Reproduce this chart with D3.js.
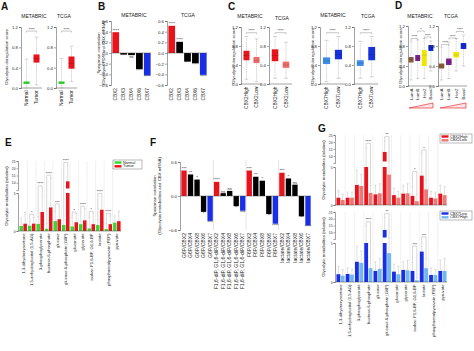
<!DOCTYPE html>
<html><head><meta charset="utf-8">
<script src="https://cdn.jsdelivr.net/npm/d3@7"></script>
<style>body{margin:0;background:#fff} svg{display:block} svg text{font-family:"Liberation Sans",Arial,Helvetica,sans-serif}</style>
</head><body><script>
// ---------------- DATA ----------------
// box stats: [min, q1, median, q3, max]
const catsA = ["Normal","Tumor"];
const boxA_METABRIC = [[0.0,0.08,0.10,0.13,0.57],[0.06,0.50,0.58,0.66,1.00]];
const boxA_TCGA = [[0.0,0.08,0.10,0.13,0.58],[0.13,0.38,0.48,0.62,0.82]];
const colorsA = ["#35d835","#e8141c"];

const catsB = ["CBX2","CBX3","CBX4","CBX6","CBX7"];
const corrB_METABRIC = [0.39,-0.03,-0.04,-0.30,-0.42];
const corrB_TCGA = [0.51,0.21,-0.16,-0.19,-0.41];
const sigB_METABRIC = ["****","*","ns","****","****"];
const sigB_TCGA = ["****","****","****","****","****"];
const colorsB = ["#e8141c","#000000","#000000","#000000","#1a2ee6"];

const catsC2 = ["CBX2High","CBX2Low"];
const catsC7 = ["CBX7High","CBX7Low"];
const boxC_METABRIC_CBX2 = [[0.10,0.50,0.60,0.70,1.00],[0.05,0.44,0.50,0.57,0.95]];
const boxC_TCGA_CBX2 = [[0.12,0.48,0.60,0.73,1.00],[0.12,0.34,0.40,0.47,0.88]];
const boxC_METABRIC_CBX7 = [[0.05,0.42,0.49,0.56,0.92],[0.12,0.52,0.62,0.72,1.00]];
const boxC_TCGA_CBX7 = [[0.12,0.38,0.44,0.50,0.90],[0.15,0.50,0.62,0.78,1.00]];
const colorsC2 = ["#e8141c","#ee6a6a"];
const colorsC7 = ["#3a8ee8","#1533d9"];

const catsD = ["LumA","LumB","Her2","Basal"];
const boxD_METABRIC = [[0.12,0.47,0.53,0.58,0.90],[0.15,0.50,0.56,0.62,0.92],[0.15,0.40,0.62,0.72,0.95],[0.30,0.70,0.76,0.82,0.90]];
const boxD_TCGA = [[0.12,0.35,0.40,0.45,0.78],[0.15,0.42,0.48,0.55,0.88],[0.30,0.57,0.62,0.68,0.95],[0.40,0.74,0.80,0.86,1.02]];
const colorsD = ["#8a5a3a","#7a1f8c","#f2e600","#1028d8"];

const metabolites = ["1,3-dihydroxyacetone","1,5-anhydroglucitol (1,5-AG)","3-phosphoglycerate","fructose-6-phosphate","glucose","glucose-6-phosphate (G6P)","gluconate","glycerate","isobar: F1,6-BP, G1,6-BP","lactate","phosphoenolpyruvate (PEP)","pyruvate"];
const E_normal = [0.66,0.70,0.93,0.30,1.30,0.80,0.60,0.90,0.35,0.80,0.25,1.10];
const E_tumor  = [0.96,0.97,2.50,3.10,1.55,11.0,1.15,1.40,0.90,2.80,0.90,1.30];
const E_normalErr = [1.7,1.3,1.9,1.0,2.6,2.0,1.8,2.4,1.8,1.5,1.0,2.0];
const E_tumorErr  = [2.5,1.8,4.5,13.0,3.2,22.0,2.3,3.0,2.4,4.6,2.0,2.6];
const E_sig = [null,"*","****","****","***","****","*","****","*","****","****",null];
const E_sigLevel = [0,2.2,7.9,15.2,3.55,24,2.5,3.25,2.6,4.95,2.3,0];

const catsF = ["G6P/CBX2","G6P/CBX4","G6P/CBX8","G6P/CBX6","G6P/CBX7",
  "F1,6-diP, G1,6-diP/CBX2","F1,6-diP, G1,6-diP/CBX4","F1,6-diP, G1,6-diP/CBX8","F1,6-diP, G1,6-diP/CBX6","F1,6-diP, G1,6-diP/CBX7",
  "F6P/CBX2","F6P/CBX4","F6P/CBX8","F6P/CBX6","F6P/CBX7",
  "lactate/CBX2","lactate/CBX4","lactate/CBX8","lactate/CBX6","lactate/CBX7"];
const corrF = [0.45,0.38,0.29,-0.28,-0.44, 0.25,0.05,0.09,-0.18,-0.26, 0.45,0.34,0.27,-0.32,-0.49, 0.41,0.31,0.20,-0.36,-0.52];
const sigF = ["***","**","*","*","***","****","ns","ns","*","***","***","**","*","*","****","***","*","ns","*","****"];
const colorsF = ["#e8141c","#000000","#000000","#000000","#1a2ee6"];

const G2_high = [0.96,0.96,2.63,5.0,1.40,12.9,1.30,1.50,1.20,3.86,0.96,1.50];
const G2_low  = [0.66,0.96,2.50,1.60,1.54,4.00,0.96,1.54,0.50,2.06,0.87,1.30];
const G2_highErr = [1.9,1.7,4.6,16.0,2.6,21.0,2.2,2.6,2.4,12.0,1.8,2.6];
const G2_lowErr  = [1.4,1.7,4.0,2.6,2.8,6.5,1.8,2.8,1.4,3.3,1.7,2.4];
const G2_sig = [null,null,null,"****",null,"**",null,null,"*","*",null,null];
const G2_sigLevel = [0,0,0,19,0,23.8,0,0,4.4,14.3,0,0];

const G7_low  = [1.00,1.03,2.60,5.0,1.42,11.7,1.33,1.55,1.42,3.90,0.90,1.42];
const G7_high = [0.82,0.95,2.45,1.77,1.68,3.70,1.00,1.50,0.22,1.77,0.90,1.42];
const G7_lowErr  = [2.0,1.8,4.6,15.0,2.6,21.0,2.3,2.6,2.5,4.6,1.8,2.8];
const G7_highErr = [1.6,1.6,4.0,2.8,3.0,6.0,2.0,2.8,0.6,3.0,1.6,3.0];
const G7_sig = [null,null,null,"****",null,"**",null,null,"***","***",null,null];
const G7_sigLevel = [0,0,0,17.8,0,24,0,0,4.6,6.5,0,0];

// ---------------- DRAWING ----------------
const W = 474, H = 351;
const FONT = "Liberation Sans, Arial, Helvetica, sans-serif";
const svg = d3.select("body").append("svg").attr("width",W).attr("height",H).attr("font-family",FONT);

function styleAxis(g, fs){
  g.attr("font-family",FONT);
  g.selectAll("text").attr("font-size",fs).attr("fill","#222").attr("font-family",FONT);
  g.selectAll("line").attr("stroke","#444").attr("stroke-width",0.5);
  g.select(".domain").attr("stroke","#444").attr("stroke-width",0.5);
}
function letter(t,x,y){
  svg.append("text").attr("x",x).attr("y",y).text(t).attr("font-size",10).attr("font-weight","bold").attr("fill","#111").attr("font-family",FONT);
}
function text(t,x,y,fs,anchor,rot,fill){
  const e = svg.append("text").attr("font-size",fs).attr("font-family",FONT).attr("text-anchor",anchor||"middle").attr("fill",fill||"#222").text(t);
  if(rot){ e.attr("transform",`translate(${x},${y}) rotate(${rot})`);} else e.attr("x",x).attr("y",y);
  return e;
}
function ytitle(lines,x,y,fs){
  lines.forEach((l,i)=>text(l,x+i*(fs+0.8),y,fs,"middle",-90));
}

function boxPlot(o){
  const g = svg.append("g");
  const y = d3.scaleLinear().domain([0,1.2]).range([o.yBot,o.yTop]);
  const x = d3.scaleBand().domain(o.cats).range([o.x0,o.x1]).paddingInner(o.pi||0.4).paddingOuter(o.po||0.25);
  const ax = g.append("g").attr("transform",`translate(${o.x0},0)`)
    .call(d3.axisLeft(y).tickValues([0,0.4,0.8,1.2]).tickFormat(d3.format(".1f")).tickSize(2).tickPadding(1));
  styleAxis(ax,4.3);
  g.append("line").attr("x1",o.x0).attr("x2",o.x1).attr("y1",o.yBot).attr("y2",o.yBot).attr("stroke","#444").attr("stroke-width",0.5);
  o.cats.forEach((c,i)=>{
    const s = o.stats[i], cx = x(c)+x.bandwidth()/2, w = x.bandwidth();
    g.append("line").attr("x1",cx).attr("x2",cx).attr("y1",y(s[0])).attr("y2",y(s[4])).attr("stroke","#aaa").attr("stroke-width",0.5).attr("stroke-dasharray","1.2,0.6");
    [s[0],s[4]].forEach(v=>g.append("line").attr("x1",cx-w*0.3).attr("x2",cx+w*0.3).attr("y1",y(v)).attr("y2",y(v)).attr("stroke","#aaa").attr("stroke-width",0.5));
    g.append("rect").attr("x",x(c)).attr("width",w).attr("y",y(s[3])).attr("height",y(s[1])-y(s[3])).attr("fill",o.colors[i]);
    g.append("line").attr("x1",x(c)).attr("x2",x(c)+w).attr("y1",y(s[2])).attr("y2",y(s[2])).attr("stroke",d3.color(o.colors[i]).darker(0.8)).attr("stroke-width",0.5);
    text(c,cx+1.6,o.yBot+2.5,o.lfs||4.8,"end",-90);
  });
  text(o.title,o.tx,o.ty,5,"middle");
  (o.brackets||[]).forEach(b=>{
    const xa = x(o.cats[b[0]])+x.bandwidth()/2, xb = x(o.cats[b[1]])+x.bandwidth()/2, yy = y(b[2]);
    g.append("path").attr("d",`M${xa},${yy+1.5}V${yy}H${xb}V${yy+1.5}`).attr("fill","none").attr("stroke","#777").attr("stroke-width",0.4);
    text(b[3],(xa+xb)/2,yy-0.3,b[4]||4,"middle");
  });
  return {x,y};
}

function corrBars(o){
  const g = svg.append("g");
  const y = d3.scaleLinear().domain([-0.6,0.6]).range([o.yBot,o.yTop]);
  const x = d3.scaleBand().domain(o.cats).range([o.x0+1,o.x1]).paddingInner(o.pi||0.15).paddingOuter(0.05);
  const ax = g.append("g").attr("transform",`translate(${o.x0},0)`)
    .call(d3.axisLeft(y).tickValues(o.ticks).tickFormat(d3.format(".1f")).tickSize(2).tickPadding(1));
  styleAxis(ax,o.tfs||4.3);
  (o.seps||[]).forEach(i=>{
    const xx = x(o.cats[i]) - x.step()*x.paddingInner()/2;
    g.append("line").attr("x1",xx).attr("x2",xx).attr("y1",o.yTop-2).attr("y2",o.yBot).attr("stroke","#bbb").attr("stroke-width",0.4);
  });
  o.cats.forEach((c,i)=>{
    const v = o.vals[i];
    g.append("rect").attr("x",x(c)).attr("width",x.bandwidth()).attr("y",y(Math.max(0,v))).attr("height",Math.abs(y(v)-y(0))).attr("fill",o.colors[i%o.colors.length]);
    const s = o.sig[i];
    if(s){
      const ty = v>=0 ? y(v)-0.5 : y(v)+ (s==="ns"?3.2:2.8);
      text(s,x(c)+x.bandwidth()/2,ty,s==="ns"?4:4.3,"middle");
    }
    text(c,x(c)+x.bandwidth()/2+1.7,o.labelY,o.lfs||4.8,"end",-90);
  });
  g.append("line").attr("x1",o.x0).attr("x2",o.x1).attr("y1",y(0)).attr("y2",y(0)).attr("stroke","#444").attr("stroke-width",0.5);
  if(o.title) text(o.title,o.tx,o.ty,5,"middle");
}

function brokenBars(o){
  const g = svg.append("g");
  const yl = d3.scaleLinear().domain([0,o.lowMax]).range([o.yBot,o.yLowTop]);
  const yh = d3.scaleLinear().domain([o.lowMax,o.highMax]).range([o.yHighBot,o.yTop]);
  const yv = v => v<=o.lowMax ? yl(v) : yh(v);
  const x = d3.scaleBand().domain(o.cats).range([o.x0+1,o.x1]).paddingInner(0.12).paddingOuter(0.05);
  const xs = d3.scaleBand().domain(d3.range(o.series.length)).range([0,x.bandwidth()]).paddingInner(0.12);
  o.cats.forEach((c,i)=>{
    const xx = x(c)+x.bandwidth()+x.step()*x.paddingInner()/2;
    if(i<o.cats.length-1) g.append("line").attr("x1",xx).attr("x2",xx).attr("y1",o.yTop).attr("y2",o.yBot).attr("stroke","#e2e2e2").attr("stroke-width",0.5);
  });
  o.series.forEach((s,si)=>{
    o.cats.forEach((c,i)=>{
      const v = s.vals[i], bx = x(c)+xs(si), w = xs.bandwidth();
      if(v<=o.lowMax){
        g.append("rect").attr("x",bx).attr("width",w).attr("y",yl(v)).attr("height",o.yBot-yl(v)).attr("fill",s.color);
      } else {
        g.append("rect").attr("x",bx).attr("width",w).attr("y",o.yLowTop).attr("height",o.yBot-o.yLowTop).attr("fill",s.color);
        g.append("rect").attr("x",bx).attr("width",w).attr("y",yh(v)).attr("height",o.yHighBot-yh(v)-1.5).attr("fill",s.color);
      }
      const e = s.errs[i], cx = bx+w/2;
      g.append("line").attr("x1",cx).attr("x2",cx).attr("y1",yv(v)).attr("y2",yv(e)).attr("stroke","#b5b5b5").attr("stroke-width",0.45);
      g.append("line").attr("x1",cx-1).attr("x2",cx+1).attr("y1",yv(e)).attr("y2",yv(e)).attr("stroke","#b5b5b5").attr("stroke-width",0.45);
    });
  });
  o.cats.forEach((c,i)=>{
    const s = o.sig[i]; if(!s) return;
    const xa = x(c)+xs(0)+xs.bandwidth()/2, xb = x(c)+xs(1)+xs.bandwidth()/2;
    const yy = yv(o.sigLevel[i]);
    const ea = yv(o.series[0].errs[i]), eb = yv(o.series[1].errs[i]);
    g.append("path").attr("d",`M${xa},${ea-0.8}V${yy}H${xb}V${eb-0.8}`).attr("fill","none").attr("stroke","#999").attr("stroke-width",0.4);
    text(s,(xa+xb)/2,yy-0.4,3.8,"middle");
  });
  const a1 = g.append("g").attr("transform",`translate(${o.x0},0)`)
    .call(d3.axisLeft(yl).tickValues(o.lowTicks).tickSize(1.5).tickPadding(1).tickFormat(d3.format("d")));
  styleAxis(a1,3.3);
  const a2 = g.append("g").attr("transform",`translate(${o.x0},0)`)
    .call(d3.axisLeft(yh).tickValues(o.highTicks).tickSize(1.5).tickPadding(1).tickFormat(d3.format("d")));
  styleAxis(a2,3.3);
  g.append("line").attr("x1",o.x0).attr("x2",o.x1).attr("y1",o.yBot).attr("y2",o.yBot).attr("stroke","#444").attr("stroke-width",0.5);
  if(o.labels){
    o.cats.forEach(c=>text(c,x(c)+x.bandwidth()/2+1.4,o.yBot+2.5,4.2,"end",-90));
  }
  const L = o.legend;
  g.append("rect").attr("x",L.x).attr("y",L.y).attr("width",L.w).attr("height",L.h).attr("fill","#fff").attr("stroke","#555").attr("stroke-width",0.4);
  o.series.forEach((s,si)=>{
    g.append("rect").attr("x",L.x+1.5).attr("y",L.y+1.3+si*3.8).attr("width",7).attr("height",2.4).attr("fill",s.color);
    text(s.name,L.x+10,L.y+3.6+si*3.8,3.8,"start");
  });
}

// ---------- Panel A ----------
letter("A",1,10);
ytitle(["Glycolysis deregulation score"],8,57,4.3);
boxPlot({x0:21,x1:42,yTop:27,yBot:88,cats:catsA,stats:boxA_METABRIC,colors:colorsA,title:"METABRIC",tx:34,ty:18,brackets:[[0,1,1.12,"****"]]});
boxPlot({x0:56,x1:77,yTop:27,yBot:88,cats:catsA,stats:boxA_TCGA,colors:colorsA,title:"TCGA",tx:64,ty:18,brackets:[[0,1,1.12,"****"]]});

// ---------- Panel B ----------
letter("B",98,10);
ytitle(["Spearman correlation","(Glycolysis PDS and CBX mRNA)"],100,53,4.3);
corrBars({x0:111,x1:151,yTop:21,yBot:85,cats:catsB,vals:corrB_METABRIC,sig:sigB_METABRIC,colors:colorsB,ticks:[-0.6,-0.4,-0.2,0,0.2,0.4,0.6],labelY:88,title:"METABRIC",tx:134,ty:17});
corrBars({x0:167,x1:207,yTop:21,yBot:85,cats:catsB,vals:corrB_TCGA,sig:sigB_TCGA,colors:colorsB,ticks:[-0.6,-0.4,-0.2,0,0.2,0.4,0.6],labelY:88,title:"TCGA",tx:188,ty:17});

// ---------- Panel C ----------
letter("C",228,10);
ytitle(["Glycolysis deregulation score"],235,56,4.3);
boxPlot({x0:241,x1:262,yTop:27,yBot:84,cats:catsC2,stats:boxC_METABRIC_CBX2,colors:colorsC2,title:"METABRIC",tx:250,ty:18,brackets:[[0,1,1.08,"****"]]});
boxPlot({x0:269,x1:292,yTop:27,yBot:84,cats:catsC2,stats:boxC_TCGA_CBX2,colors:colorsC2,title:"TCGA",tx:282,ty:20,brackets:[[0,1,1.08,"****"]]});
ytitle(["Glycolysis deregulation score"],314,56,4.3);
boxPlot({x0:320,x1:345,yTop:27,yBot:84,cats:catsC7,stats:boxC_METABRIC_CBX7,colors:colorsC7,title:"METABRIC",tx:333,ty:17,brackets:[[0,1,1.08,"****"]]});
boxPlot({x0:354,x1:378,yTop:27,yBot:84,cats:catsC7,stats:boxC_TCGA_CBX7,colors:colorsC7,title:"TCGA",tx:368,ty:18,brackets:[[0,1,1.08,"****"]]});

// ---------- Panel D ----------
letter("D",395,9);
ytitle(["Glycolysis deregulation score"],402,56,4.3);
boxPlot({x0:408,x1:434,yTop:26,yBot:86,cats:catsD,stats:boxD_METABRIC,colors:colorsD,title:"METABRIC",tx:420,ty:18,pi:0.25,po:0.1,lfs:4.4,
  brackets:[[0,1,0.95,"****",3.6],[1,2,1.1,"*",3.6],[2,3,0.98,"****",3.6]]});
boxPlot({x0:438,x1:467,yTop:26,yBot:86,cats:catsD,stats:boxD_TCGA,colors:colorsD,title:"TCGA",tx:451,ty:18,pi:0.25,po:0.1,lfs:4.4,
  brackets:[[0,1,0.83,"****",3.6],[1,2,0.96,"****",3.6],[2,3,1.09,"****",3.6]]});
[[409,433],[440,466]].forEach(([a,b])=>{
  svg.append("path").attr("d",`M${a},108L${b},103L${b},108Z`).attr("fill","#fde3e3").attr("stroke","#e8141c").attr("stroke-width",0.6);
});

// ---------- Panel E ----------
letter("E",5,146);
ytitle(["Glycolytic metabolites (relative)"],8,196,4.3);
brokenBars({x0:18,x1:121,yBot:231,yLowTop:193,yHighBot:190,yTop:161,lowMax:5,highMax:25,
  lowTicks:[0,5],highTicks:[10,15,20,25],cats:metabolites,labels:true,
  series:[{name:"Normal",color:"#35d835",vals:E_normal,errs:E_normalErr},{name:"Tumor",color:"#e8141c",vals:E_tumor,errs:E_tumorErr}],
  sig:E_sig,sigLevel:E_sigLevel,legend:{x:113,y:160,w:29,h:9}});

// ---------- Panel F ----------
letter("F",150,146);
ytitle(["Spearman correlation","(Glycolysis metabolites and CBX mRNA)"],156,196,4.3);
corrBars({x0:180,x1:311,yTop:162,yBot:230,cats:catsF,vals:corrF,sig:sigF,colors:colorsF,ticks:[-0.6,0,0.6],labelY:233,lfs:5.1,pi:0.18,seps:[5,10,15]});

// ---------- Panel G ----------
letter("G",318,132);
ytitle(["Glycolytic metabolites (relative)"],325,170,4.3);
brokenBars({x0:335,x1:447,yBot:205,yLowTop:167,yHighBot:163,yTop:135,lowMax:5,highMax:25,
  lowTicks:[0,5],highTicks:[10,15,20,25],cats:metabolites,labels:false,
  series:[{name:"CBX2High",color:"#e8141c",vals:G2_high,errs:G2_highErr},{name:"CBX2Low",color:"#ee7777",vals:G2_low,errs:G2_lowErr}],
  sig:G2_sig,sigLevel:G2_sigLevel,legend:{x:440,y:134,w:32,h:9}});
ytitle(["Glycolytic metabolites (relative)"],325,247,4.3);
brokenBars({x0:335,x1:447,yBot:282,yLowTop:243,yHighBot:239,yTop:212,lowMax:5,highMax:25,
  lowTicks:[0,5],highTicks:[10,15,20,25],cats:metabolites,labels:true,
  series:[{name:"CBX7Low",color:"#1a2ee6",vals:G7_low,errs:G7_lowErr},{name:"CBX7High",color:"#6fb8f0",vals:G7_high,errs:G7_highErr}],
  sig:G7_sig,sigLevel:G7_sigLevel,legend:{x:440,y:211,w:32,h:9}});
</script></body></html>
